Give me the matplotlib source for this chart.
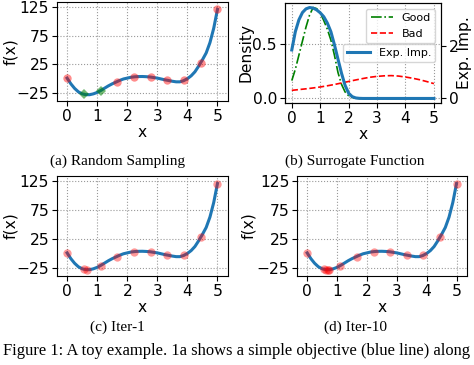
import numpy as np
import matplotlib
matplotlib.use("Agg")
import matplotlib.pyplot as plt

# objective curve, every 0.125 on x
curve_x = np.arange(41) * 0.125
curve_y = [1, -9, -17, -23, -26.5, -28, -28, -26.5, -24, -20.5, -16.5,
           -12.5, -9, -6, -3, -0.5, 1, 2.5, 3.3, 3.7, 3.8, 3.5, 3, 2, 1,
           -0.5, -2, -3.2, -4.5, -5.5, -5.5, -3.5, 0, 5, 12, 22, 33, 45,
           63, 88, 121]

# random samples
samp_x = [0, 0.556, 1.111, 1.667, 2.222, 2.778, 3.333, 3.889, 4.444, 5.0]
samp_y = [1, -27, -21, -6, 3, 3, -3, -3, 28, 121]
good_idx = [1, 2]   # the two green ones in (a)

# extra points after 1 and 10 iterations
iter1_x = [0.67]
iter1_y = [-28]
iter10_x = [0.63, 0.69, 0.74]
iter10_y = [-28, -28, -28]

# surrogate (b)
dens_x = np.arange(41) * 0.125
good = [0.165, 0.27, 0.40, 0.53, 0.66, 0.77, 0.84, 0.83, 0.79, 0.72,
        0.64, 0.54, 0.40, 0.24, 0.13, 0.06, 0.025, 0.01, 0.003] + [0] * 22
ei = [1.85, 2.55, 3.0, 3.28, 3.42, 3.47, 3.45, 3.38, 3.27, 3.12, 2.88,
      2.55, 2.05, 1.5, 0.96, 0.5, 0.2, 0.07, 0.02, 0.005] + [0] * 21
bad_x = np.arange(21) * 0.25
bad = [0.075, 0.082, 0.089, 0.097, 0.106, 0.117, 0.129, 0.143, 0.157,
       0.171, 0.184, 0.196, 0.204, 0.209, 0.211, 0.207, 0.198, 0.187,
       0.173, 0.156, 0.137]

fs = 11.2
fig = plt.figure(figsize=(4.74, 3.65), dpi=100)


def objective_panel(rect, extra_x, extra_y, lab_x, green=False):
    ax = fig.add_axes(rect)
    ax.grid(True, ls=':', color='0.6', lw=0.8)
    ax.plot(curve_x, curve_y, color='tab:blue', lw=2.2, zorder=2)
    xs = list(samp_x) + list(extra_x)
    ys = list(samp_y) + list(extra_y)
    if green:
        red = [i for i in range(len(samp_x)) if i not in good_idx]
        ax.plot([xs[i] for i in red], [ys[i] for i in red], 'o', color='red',
                alpha=0.45, ms=6, mew=0, zorder=3)
        ax.plot([xs[i] for i in good_idx], [ys[i] for i in good_idx], 'D',
                color='green', alpha=0.55, ms=5, mew=0, zorder=3)
    else:
        ax.plot(xs, ys, 'o', color='red', alpha=0.4, ms=6, mew=0, zorder=3)
    ax.set_xlim(-0.34, 5.35)
    ax.set_ylim(-39, 134)
    ax.set_xticks(range(6))
    ax.set_yticks([-25, 25, 75, 125])
    ax.tick_params(labelsize=fs, pad=2)
    ax.set_xlabel('x', fontsize=fs, labelpad=1)
    ax.set_ylabel('f(x)', fontsize=fs)
    ax.yaxis.set_label_coords(lab_x, 0.5)
    return ax


objective_panel([0.120, 0.7233, 0.361, 0.2712], [], [], -0.225, green=True)
objective_panel([0.120, 0.2438, 0.361, 0.274], iter1_x, iter1_y, -0.225)
objective_panel([0.6266, 0.2438, 0.3586, 0.274], iter10_x, iter10_y, -0.24)

# surrogate panel
ax1 = fig.add_axes([0.6006, 0.7178, 0.3298, 0.274])
ax1.grid(True, ls=':', color='0.6', lw=0.8)
ax1.plot(dens_x, good, '-.', color='green', lw=1.2, label='Good')
ax1.plot(bad_x, bad, '--', color='red', lw=1.2, label='Bad')
ax1.set_xticks(range(6))
ax1.set_yticks([0.0, 0.5])
ax1.tick_params(labelsize=fs, pad=2)
ax1.set_xlabel('x', fontsize=fs, labelpad=1)
ax1.set_ylabel('Density', fontsize=fs)
ax1.yaxis.set_label_coords(-0.2, 0.5)
ax1.legend(loc='upper right', fontsize=8)
ax2 = ax1.twinx()
ax2.plot(dens_x, ei, color='tab:blue', lw=2.2, label='Exp. Imp.')
ax2.set_yticks([0, 2])
ax2.tick_params(labelsize=fs, pad=2)
ax2.set_ylabel('Exp. Imp.', fontsize=fs)
ax2.yaxis.set_label_coords(1.105, 0.5)
ax2.legend(loc='center right', fontsize=8)

serif = 'Liberation Serif'
cap = 11
fig.text(117 / 474, 1 - 161 / 365, '(a) Random Sampling', ha='center', va='center',
         family=serif, fontsize=cap)
fig.text(355 / 474, 1 - 161 / 365, '(b) Surrogate Function', ha='center', va='center',
         family=serif, fontsize=cap)
fig.text(117 / 474, 1 - 327 / 365, '(c) Iter-1', ha='center', va='center',
         family=serif, fontsize=cap)
fig.text(355 / 474, 1 - 327 / 365, '(d) Iter-10', ha='center', va='center',
         family=serif, fontsize=cap)
fig.text(0.5, 10 / 365,
         'Figure 1: A toy example. 1a shows a simple objective (blue line) along',
         ha='center', va='baseline', family=serif, fontsize=11.9)

fig.savefig('out.png', dpi=100)
